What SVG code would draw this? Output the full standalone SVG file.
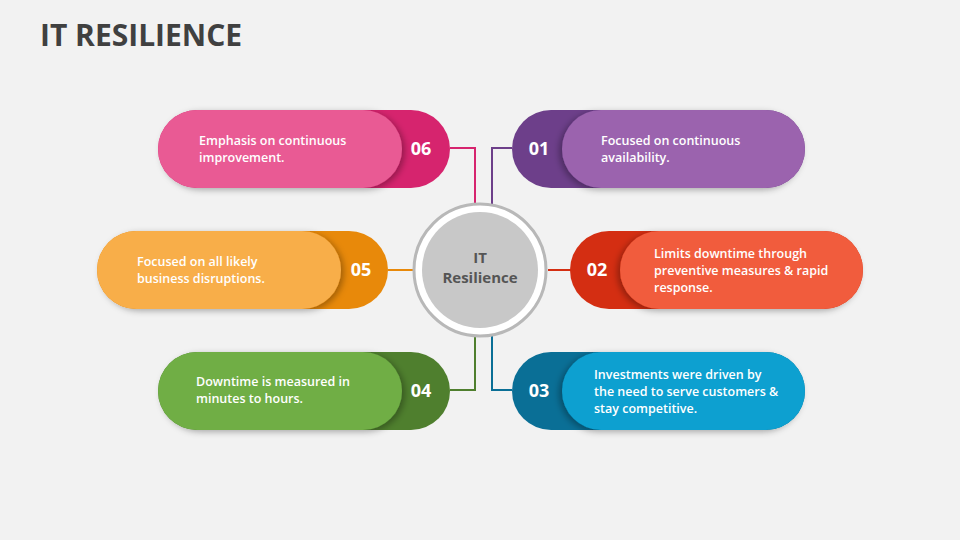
<svg xmlns="http://www.w3.org/2000/svg" width="960" height="540" viewBox="0 0 960 540">
<defs>
<filter id="sh" x="-20%" y="-20%" width="140%" height="140%"><feDropShadow dx="-3" dy="2" stdDeviation="3" flood-color="#000" flood-opacity="0.3"/></filter>
<filter id="shr" x="-20%" y="-20%" width="140%" height="140%"><feDropShadow dx="3" dy="2" stdDeviation="3" flood-color="#000" flood-opacity="0.3"/></filter>
</defs>
<style>
.t{font-family:"Open Sans","Liberation Sans",sans-serif;font-size:12.5px;fill:#fff;font-weight:600}
.n{font-family:"Open Sans","Liberation Sans",sans-serif;font-size:18px;fill:#fff;font-weight:700;text-anchor:middle}
.c{fill:none;stroke-width:2}
</style>
<rect width="960" height="540" fill="#f2f2f2"/>
<text x="40" y="46" font-family="'Open Sans','Liberation Sans',sans-serif" font-size="30" font-weight="700" fill="#404040">IT RESILIENCE</text>
<g id="connectors">
<path class="c" stroke="#d6246e" d="M450 148H475V206"/>
<path class="c" stroke="#6d3f8a" d="M512 148H492V206"/>
<path class="c" stroke="#e8890a" d="M388 270H414"/>
<path class="c" stroke="#d42e12" d="M548 270H572"/>
<path class="c" stroke="#4f7f2e" d="M450 390H475V334"/>
<path class="c" stroke="#0a6f96" d="M512 390H492V334"/>
</g>
<g id="center">
<circle cx="480" cy="270" r="66" fill="#fff" stroke="#b8b8b8" stroke-width="3"/>
<circle cx="480" cy="270" r="58" fill="#c8c8c8"/>
<text x="480" y="263" text-anchor="middle" font-family="'Open Sans','Liberation Sans',sans-serif" font-size="15" font-weight="700" fill="#555">IT</text>
<text x="480" y="283" text-anchor="middle" font-family="'Open Sans','Liberation Sans',sans-serif" font-size="15" font-weight="700" fill="#555">Resilience</text>
</g>
<g id="n06">
<rect x="158" y="110" width="292" height="78" rx="39" fill="#d6246e"/>
<rect x="158" y="110" width="244" height="78" rx="39" fill="#e95a94" filter="url(#shr)"/>
<text class="n" x="421" y="155">06</text>
<text class="t" x="199" y="145">Emphasis on continuous</text><text class="t" x="199" y="162">improvement.</text>
</g>
<g id="n01">
<rect x="512" y="110" width="293" height="78" rx="39" fill="#6d3f8a"/>
<rect x="562" y="110" width="243" height="78" rx="39" fill="#9b63ae" filter="url(#sh)"/>
<text class="n" x="539" y="155">01</text>
<text class="t" x="601" y="145">Focused on continuous</text><text class="t" x="601" y="162">availability.</text>
</g>
<g id="n05">
<rect x="97" y="231" width="291" height="78" rx="39" fill="#e8890a"/>
<rect x="97" y="231" width="244" height="78" rx="39" fill="#f8ae4a" filter="url(#shr)"/>
<text class="n" x="361" y="276">05</text>
<text class="t" x="137" y="266">Focused on all likely</text><text class="t" x="137" y="283">business disruptions.</text>
</g>
<g id="n02">
<rect x="570" y="231" width="293" height="78" rx="39" fill="#d42e12"/>
<rect x="620" y="231" width="243" height="78" rx="39" fill="#f15c3c" filter="url(#sh)"/>
<text class="n" x="597" y="276">02</text>
<text class="t" x="654" y="258">Limits downtime through</text><text class="t" x="654" y="275">preventive measures &amp; rapid</text><text class="t" x="654" y="292">response.</text>
</g>
<g id="n04">
<rect x="158" y="352" width="292" height="78" rx="39" fill="#4f7f2e"/>
<rect x="158" y="352" width="244" height="78" rx="39" fill="#6fae45" filter="url(#shr)"/>
<text class="n" x="421" y="397">04</text>
<text class="t" x="196" y="386">Downtime is measured in</text><text class="t" x="196" y="403">minutes to hours.</text>
</g>
<g id="n03">
<rect x="512" y="352" width="293" height="78" rx="39" fill="#0a6f96"/>
<rect x="562" y="352" width="243" height="78" rx="39" fill="#0aa0d0" filter="url(#sh)"/>
<text class="n" x="539" y="397">03</text>
<text class="t" x="594" y="379">Investments were driven by</text><text class="t" x="594" y="396">the need to serve customers &amp;</text><text class="t" x="594" y="413">stay competitive.</text>
</g>
</svg>
